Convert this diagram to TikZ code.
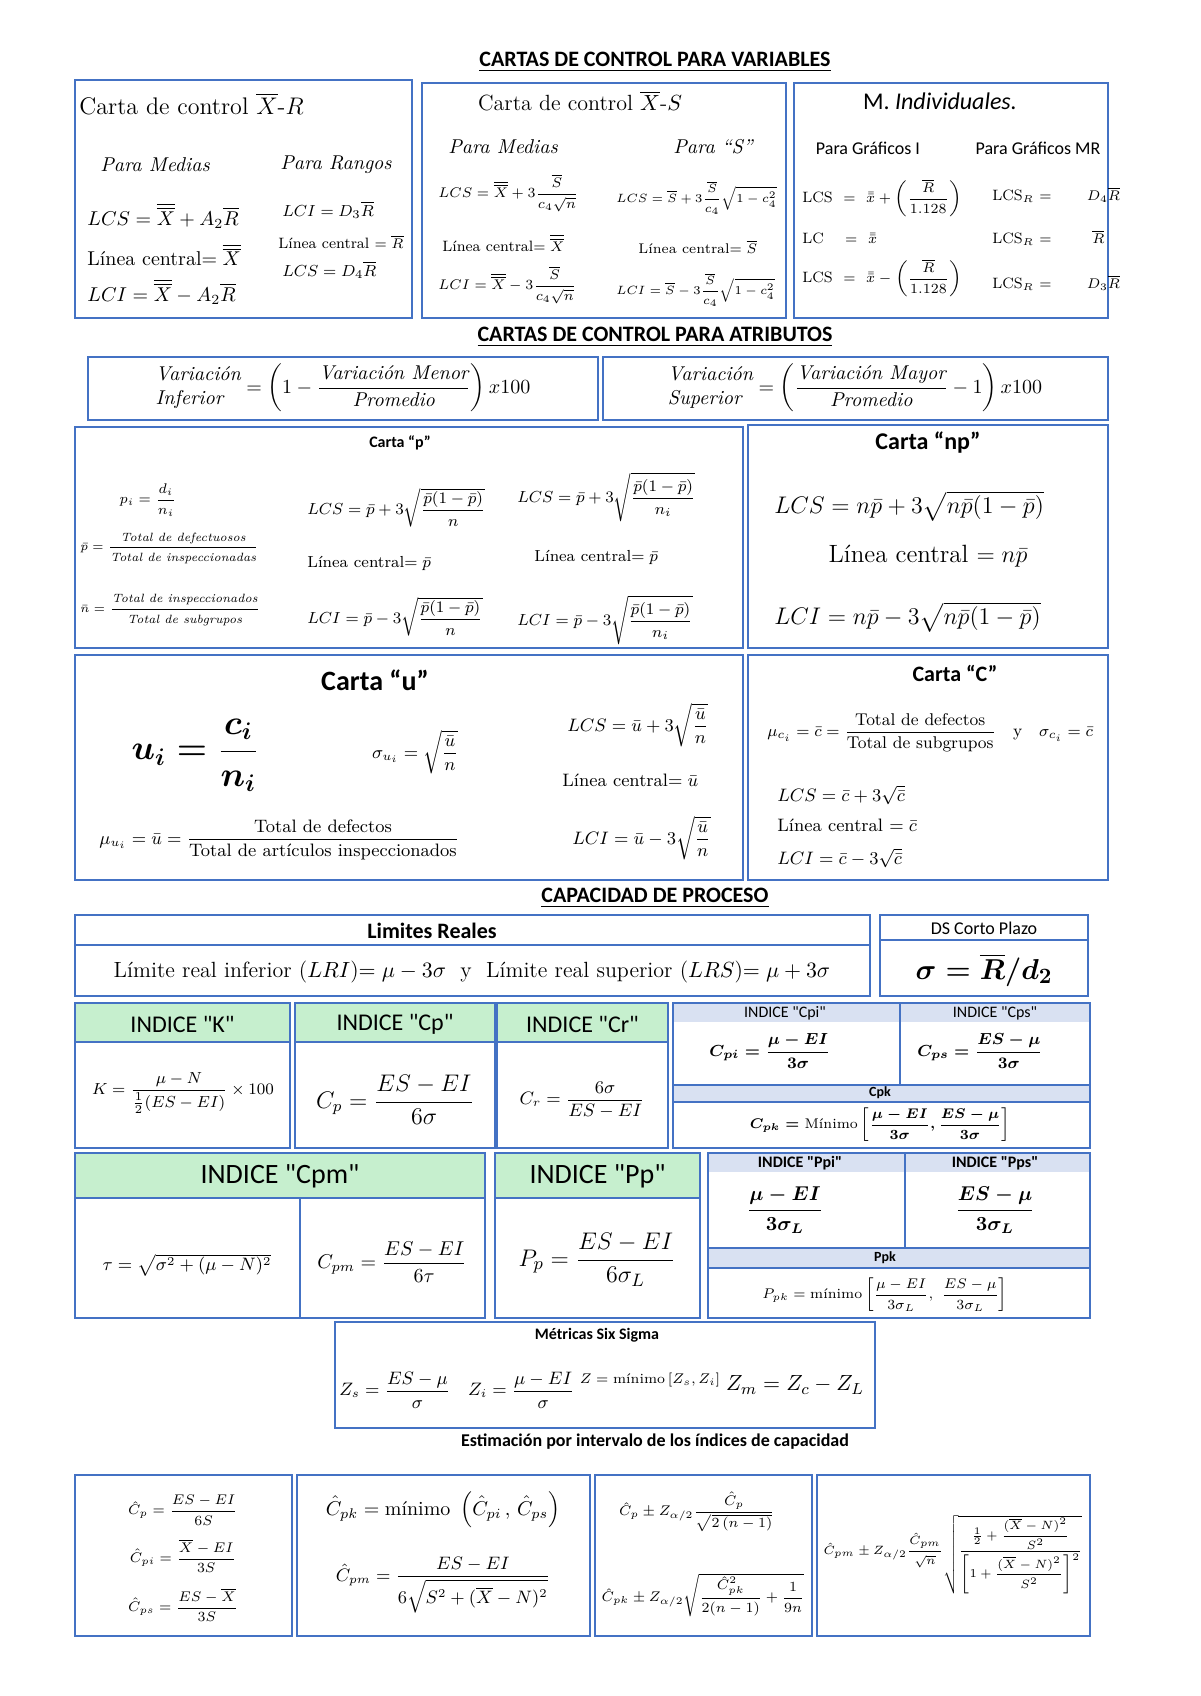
\documentclass[tikz,border=0pt]{standalone}
\usepackage{amsmath}
\usepackage{fontspec}
\newfontfamily\calfont{Carlito}
\definecolor{bx}{HTML}{4472C4}
\definecolor{gr}{HTML}{C6EFCE}
\definecolor{lb}{HTML}{D9E1F2}
\tikzset{bxs/.style={draw=bx,line width=1.4pt},
ttl/.style={font=\calfont\bfseries\fontsize{11}{13}\selectfont},
f/.style={inner sep=1pt,font=\fontsize{9}{11}\selectfont},
fl/.style={inner sep=1pt,font=\fontsize{12}{14}\selectfont},
hd/.style={font=\calfont\fontsize{12}{14}\selectfont}}
\newcommand{\vi}[1]{\text{\itshape #1}}
\begin{document}
\begin{tikzpicture}[x=0.5pt,y=-0.5pt]
\useasboundingbox (0,0) rectangle (1200,1696);
\fill[white] (0,0) rectangle (1200,1696);
% titles
\node[ttl] (t1) at (655,62) {\underline{CARTAS DE CONTROL PARA VARIABLES}};
\node[ttl] (t2) at (655,337) {\underline{CARTAS DE CONTROL PARA ATRIBUTOS}};
\node[ttl] (t3) at (655,898) {\underline{CAPACIDAD DE PROCESO}};
\node[ttl,font=\calfont\bfseries\fontsize{9}{11}\selectfont] (t4) at (655,1442) {Estimación por intervalo de los índices de capacidad};
% boxes
\foreach \a/\b/\c/\d in {75/80/412/318, 422/83/786/318, 794/83/1108/318, 88/357/598/420, 603/357/1108/420, 75/427/743/648, 748/425/1108/648, 75/655/743/880, 748/655/1108/880, 75/915/870/996, 880/915/1088/996, 335/1322/875/1428, 75/1475/292/1636, 297/1475/590/1636, 595/1475/812/1636, 817/1475/1090/1636}
  \draw[bxs] (\a,\b) rectangle (\c,\d);
% Box 1
\node[fl,anchor=west] (a1) at (77,104) {Carta de control $\overline{X}$-$R$};
\node[f,font=\fontsize{10}{12}\selectfont\itshape] (a2) at (155,165) {Para Medias};
\node[f,font=\fontsize{10}{12}\selectfont\itshape] (a3) at (336,165) {Para Rangos};
\node[f,anchor=west,font=\fontsize{10}{12}\selectfont] (a4) at (85,216) {$LCS=\overline{\overline{X}}+A_2\overline{R}$};
\node[f,anchor=west,font=\fontsize{10}{12}\selectfont] (a5) at (85,255) {Línea central$=\overline{\overline{X}}$};
\node[f,anchor=west,font=\fontsize{10}{12}\selectfont] (a6) at (85,292) {$LCI=\overline{\overline{X}}-A_2\overline{R}$};
\node[f,anchor=west,font=\fontsize{8}{10}\selectfont] (a7) at (280,210) {$LCI=D_3\overline{R}$};
\node[f,anchor=west,font=\fontsize{7.5}{9}\selectfont] (a8) at (276,242) {Línea central $=\overline{R}$};
\node[f,anchor=west,font=\fontsize{8}{10}\selectfont] (a9) at (280,270) {$LCS=D_4\overline{R}$};
% Box 2
\node[f,font=\fontsize{11}{13}\selectfont] (b1) at (580,101) {Carta de control $\overline{X}$-$S$};
\node[f,font=\fontsize{10}{12}\selectfont\itshape] (b2) at (503,147) {Para Medias};
\node[f,font=\fontsize{10}{12}\selectfont\itshape] (b3) at (713,147) {Para “S”};
\node[f,anchor=west,font=\fontsize{7.5}{9}\selectfont] (b4) at (436,193) {$LCS=\overline{\overline{X}}+3\dfrac{\overline{S}}{c_4\sqrt{n}}$};
\node[f,anchor=west,font=\fontsize{7.5}{9}\selectfont] (b5) at (440,243) {Línea central$=\overline{\overline{X}}$};
\node[f,anchor=west,font=\fontsize{7.5}{9}\selectfont] (b6) at (436,285) {$LCI=\overline{\overline{X}}-3\dfrac{\overline{S}}{c_4\sqrt{n}}$};
\node[f,anchor=west,font=\fontsize{6.5}{8}\selectfont] (b7) at (614,198) {$LCS=\overline{S}+3\dfrac{\overline{S}}{c_4}\sqrt{1-c_4^2}$};
\node[f,anchor=west,font=\fontsize{7}{9}\selectfont] (b8) at (636,247) {Línea central$=\overline{S}$};
\node[f,anchor=west,font=\fontsize{6.5}{8}\selectfont] (b9) at (614,290) {$LCI=\overline{S}-3\dfrac{\overline{S}}{c_4}\sqrt{1-c_4^2}$};
% Box 3
\node[hd] (c1) at (940,101) {M. \itshape Individuales.};
\node[hd,font=\calfont\fontsize{9}{11}\selectfont] (c2) at (868,148) {Para Gráficos I};
\node[hd,font=\calfont\fontsize{9}{11}\selectfont] (c3) at (1038,148) {Para Gráficos MR};
\node[f,anchor=west,font=\fontsize{7.5}{9}\selectfont] (c4) at (800,198) {LCS \ $=$ \ $\bar{\bar x}+\left(\dfrac{\overline{R}}{1.128}\right)$};
\node[f,anchor=west,font=\fontsize{7.5}{9}\selectfont] (c5) at (800,238) {LC \ \ \ $=$ \ $\bar{\bar x}$};
\node[f,anchor=west,font=\fontsize{7.5}{9}\selectfont] (c6) at (800,278) {LCS \ $=$ \ $\bar{\bar x}-\left(\dfrac{\overline{R}}{1.128}\right)$};
\node[f,anchor=west,font=\fontsize{7.5}{9}\selectfont] (c7) at (990,195) {LCS$_R$ $=$ \qquad $D_4\overline{R}$};
\node[f,anchor=west,font=\fontsize{7.5}{9}\selectfont] (c8) at (990,238) {LCS$_R$ $=$ \qquad \ $\overline{R}$};
\node[f,anchor=west,font=\fontsize{7.5}{9}\selectfont] (c9) at (990,283) {LCS$_R$ $=$ \qquad $D_3\overline{R}$};
% Variacion
\node[f,font=\fontsize{10}{12}\selectfont] (v1) at (343,388) {$\begin{array}{@{}l@{}}\vi{Variación}\\ \vi{Inferior}\end{array}=\left(1-\dfrac{\vi{Variación Menor}}{\vi{Promedio}}\right)x100$};
\node[f,font=\fontsize{10}{12}\selectfont] (v2) at (855,388) {$\begin{array}{@{}l@{}}\vi{Variación}\\ \vi{Superior}\end{array}=\left(\dfrac{\vi{Variación Mayor}}{\vi{Promedio}}-1\right)x100$};
% Carta p
\node[f,font=\calfont\bfseries\fontsize{8}{10}\selectfont] (p0) at (400,443) {Carta “p”};
\node[f,font=\fontsize{7}{9}\selectfont] (p1) at (148,500) {$p_i=\dfrac{d_i}{n_i}$};
\node[f,font=\fontsize{6}{8}\selectfont,anchor=west] (p2) at (78,548) {$\bar p=\dfrac{\textit{Total de defectuosos}}{\textit{Total de inspeccionadas}}$};
\node[f,font=\fontsize{6}{8}\selectfont,anchor=west] (p3) at (78,610) {$\bar n=\dfrac{\textit{Total de inspeccionados}}{\textit{Total de subgrupos}}$};
\node[f,anchor=west,font=\fontsize{8}{10}\selectfont] (p4) at (305,508) {$LCS=\bar p+3\sqrt{\dfrac{\bar p(1-\bar p)}{n}}$};
\node[f,anchor=west,font=\fontsize{8}{10}\selectfont] (p5) at (305,563) {Línea central$=\bar p$};
\node[f,anchor=west,font=\fontsize{8}{10}\selectfont] (p6) at (305,617) {$LCI=\bar p-3\sqrt{\dfrac{\bar p(1-\bar p)}{n}}$};
\node[f,anchor=west,font=\fontsize{8}{10}\selectfont] (p7) at (515,497) {$LCS=\bar p+3\sqrt{\dfrac{\bar p(1-\bar p)}{n_i}}$};
\node[f,anchor=west,font=\fontsize{8}{10}\selectfont] (p8) at (532,557) {Línea central$=\bar p$};
\node[f,anchor=west,font=\fontsize{8}{10}\selectfont] (p9) at (515,620) {$LCI=\bar p-3\sqrt{\dfrac{\bar p(1-\bar p)}{n_i}}$};
% Carta np
\node[hd,font=\calfont\bfseries\fontsize{12}{14}\selectfont] (q0) at (928,443) {Carta “np”};
\node[f,font=\fontsize{12.5}{15}\selectfont,anchor=west] (q1) at (772,506) {$LCS=n\bar p+3\sqrt{n\bar p(1-\bar p)}$};
\node[f,font=\fontsize{12.5}{15}\selectfont] (q2) at (928,556) {Línea central $=n\bar p$};
\node[f,font=\fontsize{12.5}{15}\selectfont,anchor=west] (q3) at (772,617) {$LCI=n\bar p-3\sqrt{n\bar p(1-\bar p)}$};
% Carta u
\node[hd,font=\calfont\bfseries\fontsize{14}{16}\selectfont] (u0) at (375,680) {Carta “u”};
\node[f,font=\fontsize{18}{20}\selectfont] (u1) at (195,755) {$\boldsymbol{u_i=\dfrac{c_i}{n_i}}$};
\node[f] (u2) at (415,752) {$\sigma_{u_i}=\sqrt{\dfrac{\bar u}{n}}$};
\node[f,anchor=west] (u3) at (97,840) {$\mu_{u_i}=\bar u=\dfrac{\text{Total de defectos}}{\text{Total de artículos inspeccionados}}$};
\node[f,anchor=west] (u4) at (565,725) {$LCS=\bar u+3\sqrt{\dfrac{\bar u}{n}}$};
\node[f,anchor=west] (u5) at (560,780) {Línea central$=\bar u$};
\node[f,anchor=west] (u6) at (570,838) {$LCI=\bar u-3\sqrt{\dfrac{\bar u}{n}}$};
% Carta C
\node[hd,font=\calfont\bfseries\fontsize{11}{13}\selectfont] (k0) at (955,673) {Carta “C”};
\node[f,anchor=west,font=\fontsize{8.5}{10}\selectfont] (k1) at (765,733) {$\mu_{c_i}=\bar c=\dfrac{\text{Total de defectos}}{\text{Total de subgrupos}}$\quad y\quad $\sigma_{c_i}=\bar c$};
\node[f,anchor=west] (k2) at (775,795) {$LCS=\bar c+3\sqrt{\bar c}$};
\node[f,anchor=west] (k3) at (775,825) {Línea central $=\bar c$};
\node[f,anchor=west] (k4) at (775,858) {$LCI=\bar c-3\sqrt{\bar c}$};
% Limites reales
\draw[bxs,line width=1pt] (75,945) -- (870,945);
\node[hd,font=\calfont\bfseries\fontsize{11}{13}\selectfont] (l0) at (432,931) {Limites Reales};
\node[f,font=\fontsize{11}{13}\selectfont] (l1) at (472,972) {Límite real inferior ($LRI$)$=\mu-3\sigma$\ \ y\ \ Límite real superior ($LRS$)$=\mu+3\sigma$};
\draw[bxs,line width=1pt] (880,940) -- (1088,940);
\node[hd,font=\calfont\fontsize{9}{11}\selectfont] (d0) at (984,928) {DS Corto Plazo};
\node[f,font=\fontsize{15}{17}\selectfont] (d1) at (984,970) {$\boldsymbol{\sigma=\overline{R}/d_2}$};
% index row 1
\foreach \a/\b/\t [count=\i] in {75/290/INDICE "K", 295/495/INDICE "Cp", 497/668/INDICE "Cr"}{
 \fill[gr] (\a,1003) rectangle (\b,1042);
 \draw[bxs] (\a,1003) rectangle (\b,1148);
 \draw[bxs,line width=1pt] (\a,1042) -- (\b,1042);
 \node[hd] (h\i) at ({(\a+\b)/2},1024) {\t};}
\node[f,font=\fontsize{8}{10}\selectfont] (i1) at (183,1093) {$K=\dfrac{\mu-N}{\frac{1}{2}(ES-EI)}\times 100$};
\node[f,font=\fontsize{12}{14}\selectfont] (i2) at (395,1100) {$C_p=\dfrac{ES-EI}{6\sigma}$};
\node[f,font=\fontsize{9}{11}\selectfont] (i3) at (582,1100) {$C_r=\dfrac{6\sigma}{ES-EI}$};
\fill[lb] (673,1003) rectangle (1090,1022);
\fill[lb] (673,1085) rectangle (1090,1102);
\draw[bxs] (673,1003) rectangle (1090,1148);
\draw[bxs,line width=1pt] (900,1003) -- (900,1085) (673,1085) -- (1090,1085) (673,1102) -- (1090,1102);
\node[hd,font=\calfont\fontsize{8}{10}\selectfont] (j1) at (785,1013) {INDICE "Cpi"};
\node[hd,font=\calfont\fontsize{8}{10}\selectfont] (j2) at (995,1013) {INDICE "Cps"};
\node[f,font=\fontsize{8}{10}\selectfont] (j3) at (770,1051) {$\boldsymbol{C_{pi}=\dfrac{\mu-EI}{3\sigma}}$};
\node[f,font=\fontsize{8}{10}\selectfont] (j4) at (980,1051) {$\boldsymbol{C_{ps}=\dfrac{ES-\mu}{3\sigma}}$};
\node[hd,font=\calfont\bfseries\fontsize{7}{9}\selectfont] (j5) at (880,1093) {Cpk};
\node[f,font=\fontsize{7}{9}\selectfont] (j6) at (880,1125) {$\boldsymbol{C_{pk}=\text{Mínimo}\left[\dfrac{\mu-EI}{3\sigma},\dfrac{ES-\mu}{3\sigma}\right]}$};
% index row 2
\foreach \a/\b/\t [count=\i] in {75/485/INDICE "Cpm", 495/700/INDICE "Pp"}{
 \fill[gr] (\a,1153) rectangle (\b,1198);
 \draw[bxs] (\a,1153) rectangle (\b,1318);
 \draw[bxs,line width=1pt] (\a,1198) -- (\b,1198);
 \node[hd,font=\calfont\fontsize{14}{16}\selectfont] (g\i) at ({(\a+\b)/2},1176) {\t};}
\draw[bxs,line width=1pt] (300,1198) -- (300,1318);
\node[f,font=\fontsize{9}{11}\selectfont] (m1) at (187,1265) {$\tau=\sqrt{\sigma^2+(\mu-N)^2}$};
\node[f,font=\fontsize{10}{12}\selectfont] (m2) at (392,1262) {$C_{pm}=\dfrac{ES-EI}{6\tau}$};
\node[f,font=\fontsize{13}{15}\selectfont] (m3) at (597,1260) {$P_p=\dfrac{ES-EI}{6\sigma_L}$};
\fill[lb] (708,1153) rectangle (1090,1172);
\fill[lb] (708,1248) rectangle (1090,1268);
\draw[bxs] (708,1153) rectangle (1090,1318);
\draw[bxs,line width=1pt] (905,1153) -- (905,1248) (708,1248) -- (1090,1248) (708,1268) -- (1090,1268);
\node[hd,font=\calfont\bfseries\fontsize{8}{10}\selectfont] (o1) at (800,1163) {INDICE "Ppi"};
\node[hd,font=\calfont\bfseries\fontsize{8}{10}\selectfont] (o2) at (995,1163) {INDICE "Pps"};
\node[f,font=\fontsize{10}{12}\selectfont] (o3) at (785,1210) {$\boldsymbol{\dfrac{\mu-EI}{3\sigma_L}}$};
\node[f,font=\fontsize{10}{12}\selectfont] (o4) at (995,1210) {$\boldsymbol{\dfrac{ES-\mu}{3\sigma_L}}$};
\node[hd,font=\calfont\bfseries\fontsize{7}{9}\selectfont] (o5) at (885,1258) {Ppk};
\node[f,font=\fontsize{7}{9}\selectfont] (o6) at (885,1295) {$P_{pk}=\text{mínimo}\left[\dfrac{\mu-EI}{3\sigma_L},\ \dfrac{ES-\mu}{3\sigma_L}\right]$};
% six sigma
\node[hd,font=\calfont\bfseries\fontsize{8}{10}\selectfont] (s0) at (597,1335) {Métricas Six Sigma};
\node[f,font=\fontsize{9}{11}\selectfont,anchor=west] (s1) at (337,1390) {$Z_s=\dfrac{ES-\mu}{\sigma}\quad Z_i=\dfrac{\mu-EI}{\sigma}$};
\node[f,font=\fontsize{7}{9}\selectfont] (s2) at (650,1380) {$Z=\text{mínimo}\,[Z_s,Z_i]$};
\node[f,font=\fontsize{11}{13}\selectfont] (s3) at (795,1385) {$Z_m=Z_c-Z_L$};
% bottom
\node[f,font=\fontsize{7}{9}\selectfont] (e1) at (183,1510) {$\hat C_p=\dfrac{ES-EI}{6S}$};
\node[f,font=\fontsize{7}{9}\selectfont] (e2) at (183,1556) {$\hat C_{pi}=\dfrac{\overline X-EI}{3S}$};
\node[f,font=\fontsize{7}{9}\selectfont] (e3) at (183,1605) {$\hat C_{ps}=\dfrac{ES-\overline X}{3S}$};
\node[f,font=\fontsize{10}{12}\selectfont] (e4) at (443,1510) {$\hat C_{pk}=\text{mínimo}\ \left(\hat C_{pi}\,,\,\hat C_{ps}\right)$};
\node[f,font=\fontsize{9}{11}\selectfont] (e5) at (443,1585) {$\hat C_{pm}=\dfrac{ES-EI}{6\sqrt{S^2+(\overline X-N)^2}}$};
\node[f,font=\fontsize{7}{9}\selectfont] (e6) at (697,1512) {$\hat C_p\pm Z_{\alpha/2}\dfrac{\hat C_p}{\sqrt{2\,(n-1)}}$};
\node[f,font=\fontsize{7}{9}\selectfont] (e7) at (703,1595) {$\hat C_{pk}\pm Z_{\alpha/2}\sqrt{\dfrac{\hat C_{pk}^2}{2(n-1)}+\dfrac{1}{9n}}$};
\node[f,font=\fontsize{6.5}{8}\selectfont] (e8) at (953,1555) {$\hat C_{pm}\pm Z_{\alpha/2}\dfrac{\hat C_{pm}}{\sqrt n}\sqrt{\dfrac{\frac12+\dfrac{(\overline X-N)^2}{S^2}}{\left[1+\dfrac{(\overline X-N)^2}{S^2}\right]^2}}$};
\end{tikzpicture}
\end{document}
